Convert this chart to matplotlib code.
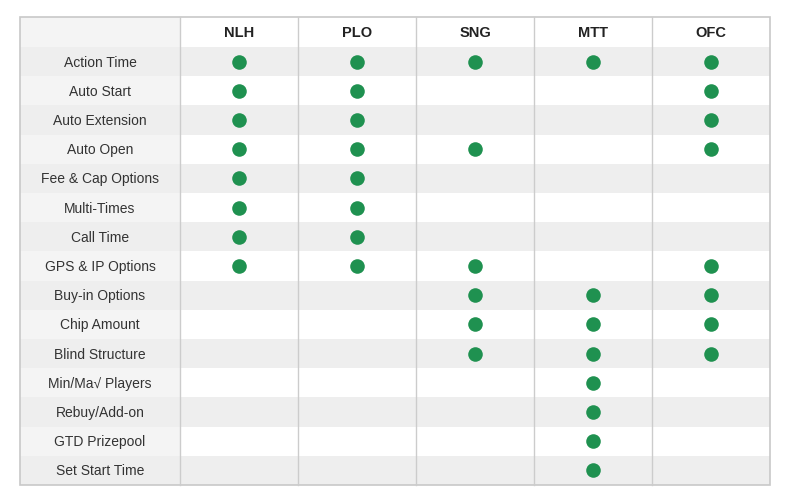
import matplotlib.pyplot as plt
from matplotlib.patches import Rectangle

games = ['NLH', 'PLO', 'SNG', 'MTT', 'OFC']
features = ['Action Time', 'Auto Start', 'Auto Extension', 'Auto Open',
            'Fee & Cap Options', 'Multi-Times', 'Call Time', 'GPS & IP Options',
            'Buy-in Options', 'Chip Amount', 'Blind Structure', 'Min/Ma\u221a Players',
            'Rebuy/Add-on', 'GTD Prizepool', 'Set Start Time']
# 1 = supported, per game column
nlh = [1, 1, 1, 1, 1, 1, 1, 1, 0, 0, 0, 0, 0, 0, 0]
plo = [1, 1, 1, 1, 1, 1, 1, 1, 0, 0, 0, 0, 0, 0, 0]
sng = [1, 0, 0, 1, 0, 0, 0, 1, 1, 1, 1, 0, 0, 0, 0]
mtt = [1, 0, 0, 0, 0, 0, 0, 0, 1, 1, 1, 1, 1, 1, 1]
ofc = [1, 1, 1, 1, 0, 0, 0, 1, 1, 1, 1, 0, 0, 0, 0]
support = [nlh, plo, sng, mtt, ofc]

fig = plt.figure(figsize=(7.87, 5.02), dpi=100)
ax = fig.add_axes([0, 0, 1, 1])
ax.set_xlim(0, 787)
ax.set_ylim(502, 0)
ax.axis('off')

left, right, top, bottom = 20, 770, 18, 486
head_h = 30
first_w = 160
row_h = (bottom - top - head_h) / len(features)
col_w = (right - left - first_w) / len(games)

# first column background
ax.add_patch(Rectangle((left, top), first_w, bottom - top, color='#f4f4f4', lw=0))
for i, f in enumerate(features):
    y0 = top + head_h + i * row_h
    if i % 2 == 0:
        ax.add_patch(Rectangle((left, y0), right - left, row_h, color='#eeeeee', lw=0))
    ax.text(left + first_w / 2, y0 + row_h / 2, f, ha='center', va='center',
            fontsize=10, color='#333333', family='Liberation Sans')

for j, g in enumerate(games):
    xc = left + first_w + (j + 0.5) * col_w
    ax.text(xc, top + head_h / 2, g, ha='center', va='center', fontsize=10.5,
            fontweight='bold', color='#222222', family='Liberation Sans')
    xs = [xc for v in support[j] if v]
    ys = [top + head_h + (i + 0.5) * row_h for i, v in enumerate(support[j]) if v]
    ax.scatter(xs, ys, s=110, color='#1f9150', zorder=3, linewidths=0)

for j in range(len(games)):
    x = left + first_w + j * col_w
    ax.plot([x, x], [top, bottom], color='#cccccc', lw=1)
ax.add_patch(Rectangle((left, top), right - left, bottom - top, fill=False,
                       ec='#c8c8c8', lw=1.2))

fig.savefig('out.png', dpi=100)
